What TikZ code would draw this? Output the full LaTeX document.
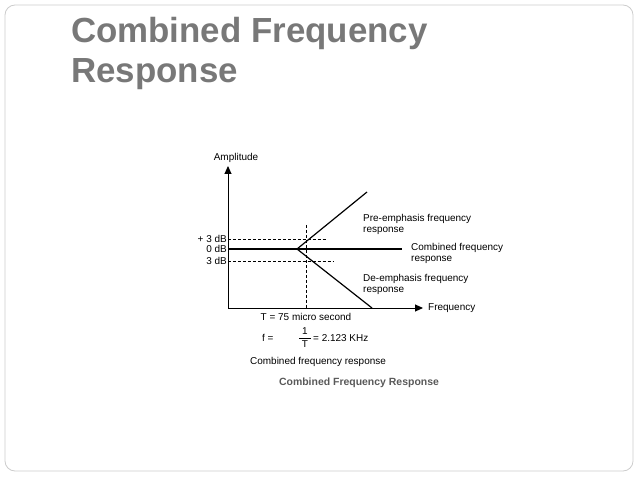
\documentclass[tikz,border=0pt]{standalone}
\usepackage{fontspec}
\setmainfont{Liberation Sans}
\usetikzlibrary{arrows.meta}
\begin{document}
\begin{tikzpicture}[x=1bp,y=-1bp,
  lbl/.style={font=\fontsize{10}{11}\selectfont,inner sep=0pt},
  ax/.style={line width=1pt,-{Triangle[length=8bp,width=7bp]}},
  dsh/.style={dashed,line width=0.5pt,dash pattern=on 3pt off 2pt},
  curve/.style={line width=1.4pt}]
\useasboundingbox (0,0) rectangle (638,478);
\draw[gray!40,rounded corners=10bp,line width=0.8pt] (5,5) rectangle (633,471);
\node[anchor=north west,align=left,font=\bfseries\fontsize{35}{40}\selectfont,text=black!53,inner sep=0pt] (title) at (71,17) {Combined Frequency\\Response};
\coordinate (O) at (228,308);
\coordinate (ytop) at (228,166);
\coordinate (xend) at (423,308);
\draw[ax] (O) -- (ytop);
\draw[ax] (O) -- (xend);
\node[lbl,anchor=south] (amp) at (236,163) {Amplitude};
\node[lbl,anchor=west] (freq) at (428,308) {Frequency};
\coordinate (k) at (297,249);
\coordinate (zero) at (228,249);
\coordinate (zend) at (402,249);
\coordinate (pre) at (367,192);
\coordinate (de) at (372,308);
\draw[curve] (zero) -- (zend);
\draw[line width=1.2pt] (k) -- (pre);
\draw[line width=1.2pt] (k) -- (de);
\coordinate (p3a) at (228,239); \coordinate (p3b) at (327,239);
\coordinate (m3a) at (228,261); \coordinate (m3b) at (333,261);
\coordinate (va) at (306,225); \coordinate (vb) at (306,308);
\draw[dsh] (p3a) -- (p3b);
\draw[dsh] (m3a) -- (m3b);
\draw[dsh] (va) -- (vb);
\node[lbl,anchor=east] (lp3) at (227,239) {+ 3 dB};
\node[lbl,anchor=east] (l0) at (227,249) {0 dB};
\node[lbl,anchor=east] (lm3) at (227,261) {3 dB};
\node[lbl,anchor=west,align=left] (tpre) at (363,224) {Pre-emphasis frequency\\response};
\node[lbl,anchor=west,align=left] (tcomb) at (411,253) {Combined frequency\\response};
\node[lbl,anchor=west,align=left] (tde) at (363,284) {De-emphasis frequency\\response};
\node[lbl,anchor=north] (tT) at (306,313) {T = 75 micro second};
\node[lbl,anchor=west] (tf) at (262,338) {f =};
\node[lbl,inner sep=1pt] (one) at (305,331) {1};
\node[lbl,inner sep=1pt] (tt) at (305,344) {T};
\draw[line width=0.5pt] (299,338) -- (311,338);
\node[lbl,anchor=west] (tk) at (313,338) {= 2.123 KHz};
\node[lbl,anchor=west] (tcap) at (250,362) {Combined frequency response};
\node[font=\bfseries\fontsize{10.5}{12}\selectfont,text=black!65,inner sep=0pt] (cap) at (359,383) {Combined Frequency Response};
\end{tikzpicture}
\end{document}
